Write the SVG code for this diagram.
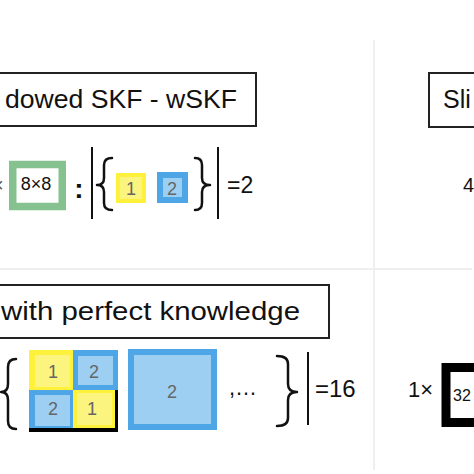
<svg xmlns="http://www.w3.org/2000/svg" width="474" height="474" viewBox="0 0 474 474">
<style>
text{font-family:"Liberation Sans",Arial,sans-serif;fill:#111}
.title{font-size:25px}
.num{font-size:18px;fill:#666;text-anchor:middle}
.tbox{fill:#fff;stroke:#222;stroke-width:2}
.brace{fill:none;stroke:#111;stroke-width:2.5;stroke-linecap:round;stroke-linejoin:round}
.bar{stroke:#111;stroke-width:2}
.sep{stroke:#efefef;stroke-width:2}
.yel{fill:#fdf13c}
.yelin{fill:#fbf47e}
.blu{fill:#4fa6e6}
.bluin{fill:#9ccff2}
</style>
<rect width="474" height="474" fill="#fff"/>
<g id="separators">
<line class="sep" x1="374" y1="40" x2="374" y2="470"/>
<line class="sep" x1="0" y1="269" x2="472" y2="269"/>
</g>
<g id="title-wskf">
<rect class="tbox" x="-5" y="73" width="261" height="53"/>
<text class="title" x="5" y="108" textLength="232" lengthAdjust="spacingAndGlyphs">dowed SKF - wSKF</text>
</g>
<g id="title-sliding">
<rect class="tbox" x="429" y="73" width="60" height="54"/>
<text class="title" x="443" y="108">Sli</text>
</g>
<g id="title-perfect">
<rect class="tbox" x="-5" y="285" width="334" height="53"/>
<text class="title" x="1" y="320" textLength="299" lengthAdjust="spacingAndGlyphs">with perfect knowledge</text>
</g>
<g id="row1-left">
<text x="-8" y="192" font-size="20" style="fill:#555">×</text>
<rect x="12.75" y="164.5" width="49.5" height="42" fill="#fff" stroke="#86c28f" stroke-width="7.5"/>
<text x="36" y="190" font-size="18" text-anchor="middle">8×8</text>
<text x="79" y="198" font-size="28" font-weight="bold" text-anchor="middle">:</text>
</g>
<g id="row1-set">
<line class="bar" x1="92" y1="147" x2="92" y2="219"/>
<path class="brace" d="M112,158 Q104,158 104,165 L104,178 Q104,185 97,185 Q104,185 104,192 L104,203 Q104,210 112,210"/>
<g id="r1-box1">
<rect class="yel" x="116" y="173" width="30" height="30"/>
<rect class="yelin" x="120" y="177" width="22" height="22"/>
<text class="num" x="131" y="195">1</text>
</g>
<g id="r1-box2">
<rect class="blu" x="157" y="172" width="31" height="31"/>
<rect class="bluin" x="163" y="178" width="19" height="19"/>
<text class="num" x="172" y="195">2</text>
</g>
<path class="brace" d="M195,158 Q202,158 202,165 L202,178 Q202,185 210,185 Q202,185 202,192 L202,203 Q202,210 195,210"/>
<line class="bar" x1="218" y1="147" x2="218" y2="219"/>
<text x="227" y="193" font-size="23">=2</text>
</g>
<g id="row1-right">
<text x="463" y="192" font-size="20">4</text>
</g>
<g id="row2-set">
<path class="brace" d="M16,359 Q8,359 8,367 L8,384 Q8,392 1,392 Q8,392 8,400 L8,421 Q8,429 16,429"/>
<g id="grid">
<rect class="yel" x="29" y="350" width="44" height="40"/>
<rect class="yelin" x="35" y="355" width="35" height="32"/>
<rect class="blu" x="73" y="350" width="45" height="40"/>
<rect class="bluin" x="78" y="356" width="35" height="29"/>
<rect class="blu" x="29" y="390" width="44" height="40"/>
<rect class="bluin" x="35" y="395" width="35" height="31"/>
<rect class="yel" x="73" y="390" width="42" height="38"/>
<rect class="yelin" x="77" y="393" width="35" height="32"/>
<rect x="29" y="428" width="89" height="4" fill="#000"/>
<rect x="115" y="390" width="3" height="42" fill="#000"/>
<text class="num" x="53" y="378">1</text>
<text class="num" x="94" y="378">2</text>
<text class="num" x="53" y="415">2</text>
<text class="num" x="92" y="415">1</text>
</g>
<g id="big-square">
<rect x="131" y="352" width="83" height="75" fill="#9ccff2" stroke="#4fa6e6" stroke-width="6"/>
<text class="num" x="172" y="398" font-size="19">2</text>
</g>
<text x="229" y="395" font-size="22">,…</text>
<path class="brace" d="M277,356 Q288,356 288,364 L288,384 Q288,392 297,392 Q288,392 288,400 L288,418 Q288,426 277,426"/>
<line class="bar" x1="308" y1="352" x2="308" y2="425"/>
<text x="315" y="397" font-size="24">=16</text>
</g>
<g id="row2-right">
<text x="408" y="397" font-size="22">1×</text>
<rect x="446" y="367.5" width="40" height="55" fill="#fff" stroke="#000" stroke-width="9"/>
<text x="453" y="401" font-size="16">32</text>
</g>
</svg>
